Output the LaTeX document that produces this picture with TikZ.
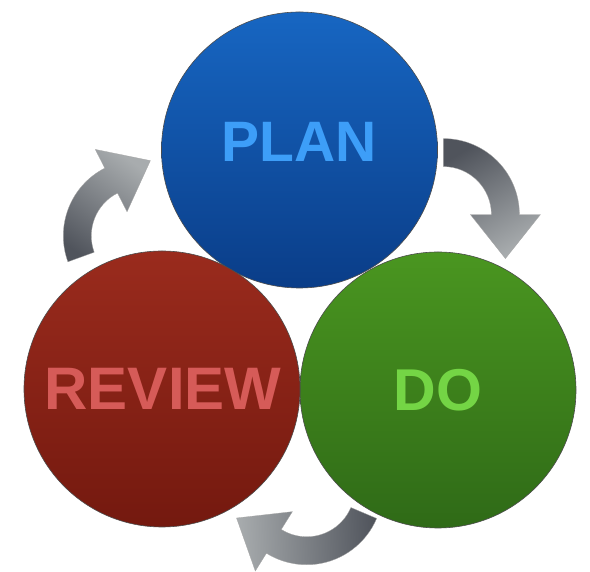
\documentclass[tikz,border=0pt]{standalone}
\usepackage{fontspec}
\setmainfont{Liberation Sans}
\usetikzlibrary{calc}

\definecolor{plantop}{HTML}{1766C2}
\definecolor{planbottom}{HTML}{0A3D88}
\definecolor{plantext}{HTML}{3D9EF8}
\definecolor{dotop}{HTML}{4A9620}
\definecolor{dobottom}{HTML}{2F6A17}
\definecolor{dotext}{HTML}{74D545}
\definecolor{reviewtop}{HTML}{9A2B1D}
\definecolor{reviewbottom}{HTML}{74190F}
\definecolor{reviewtext}{HTML}{D65B58}
\definecolor{arrowdark}{HTML}{50545C}
\definecolor{arrowlight}{HTML}{A8ACAE}

\begin{document}
\begin{tikzpicture}[
        x=1pt, y=1pt,
        phase/.style={
            circle,
            draw=black!70,
            line width=0.6pt,
            minimum size=276pt,
            inner sep=0pt
        },
        caption/.style={
            font=\bfseries\fontsize{#1}{#1}\selectfont,
            inner sep=0pt
        },
        turn/.style={
            draw=black!35,
            line width=0.3pt,
            top color=arrowdark,
            bottom color=arrowlight
        }
    ]
    \useasboundingbox (0,0) rectangle (590,572);

    % Nodes
    \node[phase, top color=plantop, bottom color=planbottom] (plan) at (299.5,422) {};
    \node[phase, top color=dotop, bottom color=dobottom] (do) at (438,182) {};
    \node[phase, top color=reviewtop, bottom color=reviewbottom] (review) at (162,183) {};
    \node[caption=57, text=plantext] (plan text) at ([yshift=8pt]plan.center) {PLAN};
    \node[caption=59, text=dotext] (do text) at (do.center) {DO};
    \node[caption=60, text=reviewtext] (review text) at ([xshift=1pt]review.center) {REVIEW};

    % Arrows
    \coordinate (hub) at (297.5,259);
    \foreach \turnid/\pos/\tailang/\headang/\tilt in {plan-do/34/90/0/30, do-review/273/337/238/-88, review-plan/154/200/117/144} {
        \coordinate (\turnid) at ($(hub)+(\pos:176pt)$);
        \shadedraw[turn, shading angle=\tilt]
            ($(\turnid)+(\tailang:76pt)$) arc[start angle=\tailang, end angle=\headang, radius=76pt]
            -- ($(\turnid)+(\headang:97pt)$)
            -- ($(\turnid)+(\headang:62pt)+(\headang-90:44pt)$)
            -- ($(\turnid)+(\headang:27pt)$)
            -- ($(\turnid)+(\headang:48pt)$)
            arc[start angle=\headang, end angle=\tailang, radius=48pt]
            -- cycle;
    }
\end{tikzpicture}
\end{document}
